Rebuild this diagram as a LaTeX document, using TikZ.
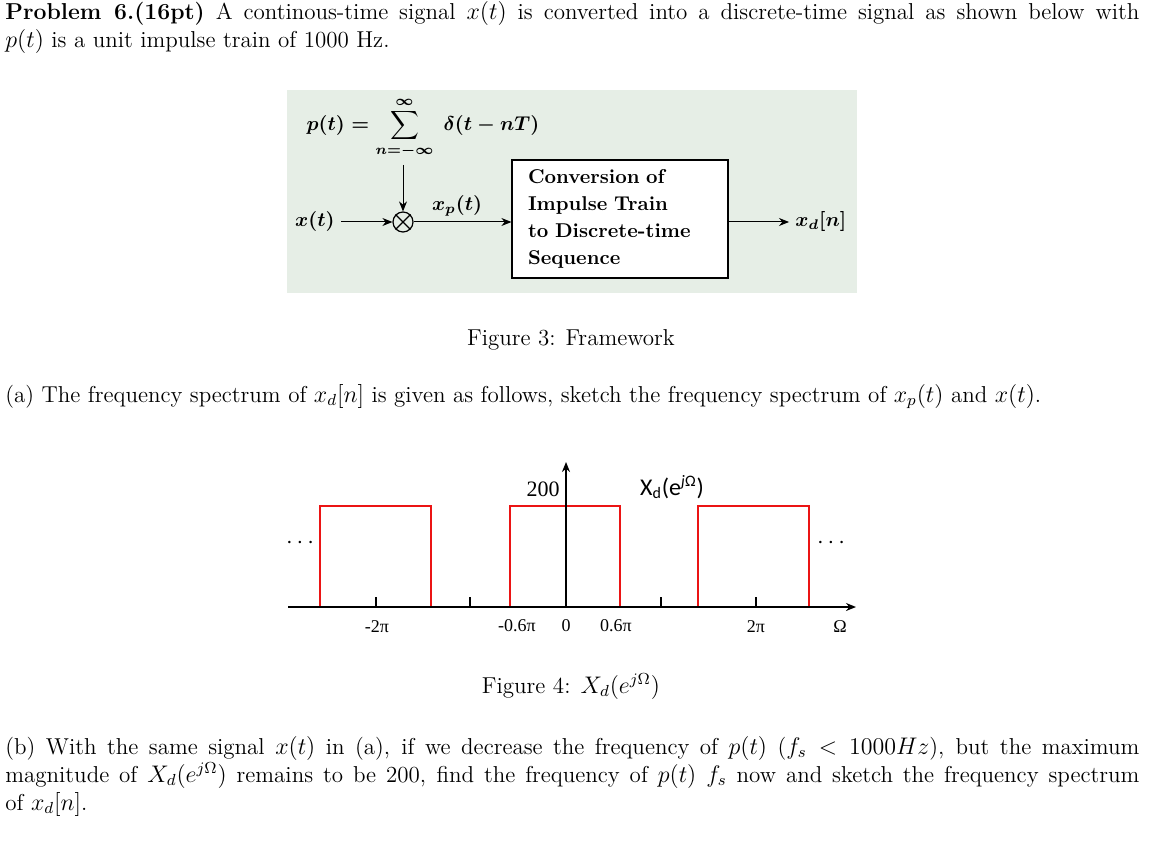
\documentclass[tikz,border=0pt]{standalone}
\usepackage{amsmath}
\usepackage{fontspec}
\newfontfamily\tnr{Liberation Serif}
\newfontfamily\carl{Carlito}
\usetikzlibrary{arrows.meta}
\definecolor{bgg}{RGB}{230,238,230}
\definecolor{sred}{RGB}{235,20,20}
\begin{document}
\begin{tikzpicture}[x=0.5pt,y=-0.5pt,
  body/.style={inner sep=0pt,anchor=base west,font=\fontsize{11.5}{14}\selectfont},
  arr/.style={-{Stealth[length=5pt,width=4pt]},line width=0.5pt},
  tk/.style={font=\tnr\fontsize{9}{10}\selectfont,inner sep=0pt},
  bm/.style={inner sep=0pt,font=\fontsize{10}{12}\selectfont},
  redbox/.style={draw=sred,line width=1pt}]
\useasboundingbox (0,0) rectangle (1155,855);
\node[body,text width=567pt,align=justify] (t1) at (5,20) {\textbf{Problem 6.(16pt)} A continous-time signal $x(t)$ is converted into a discrete-time signal as shown below with\linebreak $p(t)$ is a unit impulse train of 1000 Hz.};
% block diagram
\fill[bgg] (287,90) rectangle (857,293);
\node[bm] (pt) at (423,128) {$\boldsymbol{p(t)=\displaystyle\sum_{n=-\infty}^{\infty}\;\delta(t-nT)}$};
\node[draw,circle,minimum size=10pt,inner sep=0pt,line width=0.6pt] (m) at (403,222) {};
\draw[line width=0.6pt] (m.45)--(m.225) (m.135)--(m.315);
\node[bm,anchor=east,inner xsep=3pt] (x) at (341,222) {$\boldsymbol{x(t)}$};
\node[draw,fill=white,line width=0.6pt,minimum width=108pt,minimum height=59pt,align=left,inner sep=0pt,font=\bfseries\fontsize{10}{13.5}\selectfont,text width=92pt] (conv) at (620,219) {Conversion of\\Impulse Train\\to Discrete-time\\Sequence};
\node[bm,anchor=west,inner xsep=3pt] (xd) at (789,222) {$\boldsymbol{x_d[n]}$};
\node[bm] (xp) at (457,206) {$\boldsymbol{x_p(t)}$};
\coordinate (ps) at (403,165);
\draw[arr] (ps) -- (m);
\draw[arr] (x) -- (m);
\draw[arr] (m) -- (conv.west|-m);
\draw[arr] (conv.east|-m) -- (xd);
\node[body,anchor=base] (f3) at (571,345) {Figure 3: Framework};
\node[body] (a) at (5,402) {(a) The frequency spectrum of $x_d[n]$ is given as follows, sketch the frequency spectrum of $x_p(t)$ and $x(t)$.};
% spectrum
\coordinate (ax0) at (288,607); \coordinate (ax1) at (856,607);
\coordinate (ay0) at (566,607); \coordinate (ay1) at (566,462);
\draw[redbox] (320,607) rectangle (431,506);
\draw[redbox] (510,607) rectangle (620,506);
\draw[redbox] (698,607) rectangle (809,506);
\draw[line width=1pt,-{Stealth[length=5pt,width=4pt]}] (ax0)--(ax1);
\draw[line width=1pt,-{Stealth[length=5pt,width=4pt]}] (ay0)--(ay1);
\foreach \t in {376,470,661,756} \draw[line width=1pt] (\t,597)--(\t,607);
\node[tk,font=\tnr\fontsize{11}{12}\selectfont] (l200) at (543,489) {200};
\node[tk,font=\carl\fontsize{12}{13}\selectfont] (lx) at (672,487) {X\textsubscript{d}(e\textsuperscript{\textit{j}Ω})};
\node[tk] (lm2) at (377,627) {-2π};
\node[tk] (lm6) at (517,626) {-0.6π};
\node[tk] (l0) at (566,626) {0};
\node[tk] (l6) at (616,626) {0.6π};
\node[tk] (l2) at (756,627) {2π};
\node[tk] (lo) at (840,627) {Ω};
\node[tk,font=\fontsize{12}{12}\selectfont] (dl) at (302,543) {$\cdots$};
\node[tk,font=\fontsize{12}{12}\selectfont] (dr) at (833,543) {$\cdots$};
\node[body,anchor=base] (f4) at (571,693) {Figure 4: $X_d(e^{j\Omega})$};
\node[body,text width=567pt,align=justify] (b) at (5,754) {(b) With the same signal $x(t)$ in (a), if we decrease the frequency of $p(t)$ ($f_s<1000Hz$), but the maximum\linebreak magnitude of $X_d(e^{j\Omega})$ remains to be 200, find the frequency of $p(t)$ $f_s$ now and sketch the frequency spectrum\linebreak of $x_d[n]$.};
\end{tikzpicture}
\end{document}
